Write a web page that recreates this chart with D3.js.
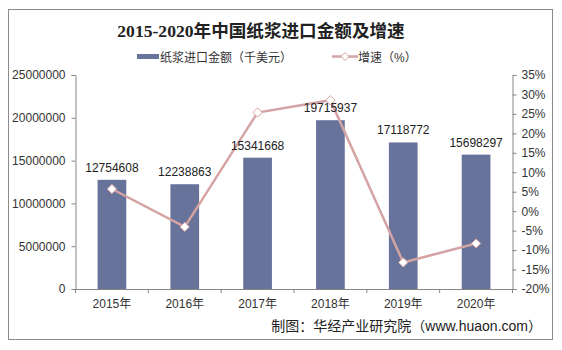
<!DOCTYPE html>
<html><head><meta charset="utf-8">
<script src="https://cdn.jsdelivr.net/npm/d3@7"></script>
<style>
html,body{margin:0;padding:0;background:#fff;}
text{font-family:"Liberation Sans",Arial,"Noto Sans CJK SC",sans-serif;}
</style></head>
<body><svg id="c" width="562" height="350"></svg>
<script>
const years = ["2015年","2016年","2017年","2018年","2019年","2020年"];
const amounts = [12754608,12238863,15341668,19715937,17118772,15698297];
const growth = [5.7,-4.04,25.35,28.51,-13.17,-8.3];
const leftTicks = [0,5000000,10000000,15000000,20000000,25000000];
const rightTicks = [-20,-15,-10,-5,0,5,10,15,20,25,30,35];
const title = "2015-2020年中国纸浆进口金额及增速";
const legendBar = "纸浆进口金额（千美元）";
const legendLine = "增速（%）";
const source = "制图：华经产业研究院（www.huaon.com）";

const barColor = "#67739a", lineColor = "#d4a3a3", axisColor = "#868686", textColor = "#333";
const svg = d3.select("#c");
svg.append("rect").attr("x",8.5).attr("y",9.5).attr("width",544).attr("height",330)
  .attr("fill","#fff").attr("stroke","#8c8c8c");

const L=75.5, R=512.5, T=75, B=289;
const x = d3.scaleBand().domain(years).range([L,R]).paddingInner(0.606).paddingOuter(0.303);
const yL = d3.scaleLinear().domain([0,25000000]).range([B,T]);
const yR = d3.scaleLinear().domain([-20,35]).range([B,T]);

svg.append("text").attr("x",261).attr("y",37).attr("text-anchor","middle")
  .style("font-family",'"Liberation Serif","Noto Sans CJK SC",serif').style("font-weight","bold")
  .style("font-size","17.6px").attr("fill","#222").text(title);

// legend
const lg = svg.append("g").style("font-size","12px");
lg.append("rect").attr("x",137).attr("y",54).attr("width",22).attr("height",5).attr("fill",barColor);
lg.append("text").attr("x",160).attr("y",61.5).attr("fill",textColor).text(legendBar);
lg.append("line").attr("x1",332).attr("x2",358).attr("y1",56.5).attr("y2",56.5).attr("stroke",lineColor).attr("stroke-width",2.5);
lg.append("path").attr("d",d3.symbol(d3.symbolDiamond2,40)()).attr("transform","translate(345,56.5)")
  .attr("fill","#fff").attr("stroke",lineColor).attr("stroke-width",1);
lg.append("text").attr("x",358).attr("y",61.5).attr("fill",textColor).text(legendLine);

// axes
const axL = svg.append("g").attr("transform",`translate(${L},0)`)
  .call(d3.axisLeft(yL).tickValues(leftTicks).tickFormat(d3.format("d")).tickSize(4).tickPadding(6));
const axR = svg.append("g").attr("transform",`translate(${R},0)`)
  .call(d3.axisRight(yR).tickValues(rightTicks).tickFormat(d=>d+"%").tickSize(4).tickPadding(5));
const axB = svg.append("g").attr("transform",`translate(0,${B})`)
  .call(d3.axisBottom(x).tickSize(0).tickPadding(10));
[axL,axR,axB].forEach(a=>{
  a.selectAll("path,line").attr("stroke",axisColor);
  a.selectAll("text").attr("fill","#333").style("font-size","12px");
});
// x boundary ticks
const step = x.step();
svg.append("g").selectAll("line").data(d3.range(years.length+1)).join("line")
  .attr("x1",i=>L+i*step).attr("x2",i=>L+i*step).attr("y1",B).attr("y2",B+4).attr("stroke",axisColor);

// bars
svg.append("g").selectAll("rect").data(amounts).join("rect")
  .attr("x",(d,i)=>x(years[i])).attr("width",x.bandwidth())
  .attr("y",d=>yL(d)).attr("height",d=>B-yL(d)).attr("fill",barColor);

// line
const cx = i=>x(years[i])+x.bandwidth()/2;
svg.append("path").datum(growth).attr("fill","none").attr("stroke",lineColor).attr("stroke-width",2.5)
  .attr("d",d3.line().x((d,i)=>cx(i)).y(d=>yR(d)));
svg.append("g").selectAll("path").data(growth).join("path")
  .attr("d",d3.symbol(d3.symbolDiamond2,55)())
  .attr("transform",(d,i)=>`translate(${cx(i)},${yR(d)})`)
  .attr("fill","#fff").attr("stroke",lineColor).attr("stroke-width",1);

// bar labels on top
svg.append("g").selectAll("text").data(amounts).join("text")
  .attr("x",(d,i)=>x(years[i])+x.bandwidth()/2).attr("y",d=>yL(d)-8)
  .attr("text-anchor","middle").style("font-size","12px").attr("fill","#222").text(d=>d);

svg.append("text").attr("x",542).attr("y",331).attr("text-anchor","end")
  .style("font-size","14px").attr("fill","#222").text(source);
</script></body></html>
